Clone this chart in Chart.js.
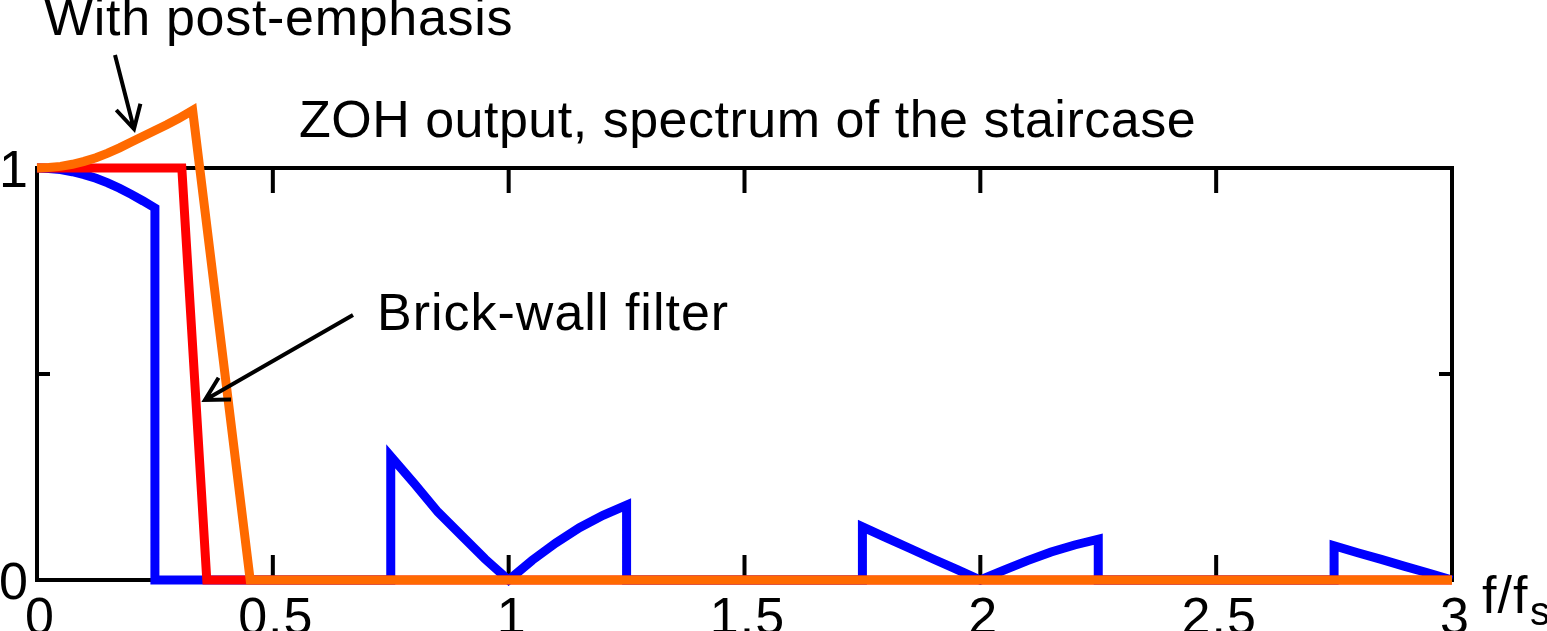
<!DOCTYPE html>
<html>
<head>
<meta charset="utf-8">
<script src="https://cdn.jsdelivr.net/npm/chart.js@4/dist/chart.umd.min.js"></script>
<style>
  html, body { margin: 0; padding: 0; background: #fff; }
  #wrap { width: 1547px; height: 631px; }
</style>
</head>
<body>
<div id="wrap"><canvas id="zohChart"></canvas></div>
<script>
// values (f/fs on x, magnitude on y)
const zohX = [0, 0.025, 0.05, 0.075, 0.1, 0.125, 0.15, 0.175, 0.2, 0.225, 0.25, 0.25, 0.75,
  0.75, 0.8, 0.85, 0.9, 0.95, 1, 1.05, 1.1, 1.15, 1.2, 1.25, 1.25, 1.75,
  1.75, 1.8, 1.85, 1.9, 1.95, 2, 2.05, 2.1, 2.15, 2.2, 2.25, 2.25, 2.75,
  2.75, 2.8, 2.85, 2.9, 2.95, 3];
const zohY = [1, 0.999, 0.996, 0.991, 0.984, 0.975, 0.964, 0.951, 0.936, 0.92, 0.903, 0, 0,
  0.3, 0.234, 0.165, 0.108, 0.051, 0, 0.048, 0.09, 0.127, 0.157, 0.182, 0, 0,
  0.129, 0.103, 0.077, 0.051, 0.026, 0, 0.024, 0.047, 0.068, 0.085, 0.099, 0, 0,
  0.083, 0.066, 0.05, 0.033, 0.017, 0];

const brickX = [0, 0.307, 0.36, 3];
const brickY = [1, 1, 0, 0];

const postX = [0, 0.025, 0.05, 0.075, 0.1, 0.125, 0.15, 0.175, 0.2, 0.225, 0.25, 0.275, 0.3, 0.33, 0.452, 3];
const postY = [1, 1.001, 1.004, 1.009, 1.016, 1.025, 1.036, 1.049, 1.063, 1.077, 1.091, 1.105, 1.12, 1.14, 0, 0];

const xTickVals = [0, 0.5, 1, 1.5, 2, 2.5, 3];
const xTickLabels = ['0', '0.5', '1', '1.5', '2', '2.5', '3'];
const yTickVals = [0, 0.5, 1];
const yTickLabels = ['0', '', '1'];

const FONT = "52px 'Liberation Sans', Arial, sans-serif";
const LINE_W = 9;

function pts(xs, ys) {
  return xs.map((x, i) => ({ x: x, y: ys[i] }));
}

function arrow(ctx, x1, y1, x2, y2) {
  const a = Math.atan2(y2 - y1, x2 - x1);
  const len = 26, spread = 0.5;
  ctx.beginPath();
  ctx.moveTo(x1, y1);
  ctx.lineTo(x2, y2);
  ctx.moveTo(x2 - len * Math.cos(a - spread), y2 - len * Math.sin(a - spread));
  ctx.lineTo(x2, y2);
  ctx.lineTo(x2 - len * Math.cos(a + spread), y2 - len * Math.sin(a + spread));
  ctx.stroke();
}

// box, inner ticks and all the text, MATLAB style
const axesBox = {
  id: 'axesBox',
  beforeDatasetsDraw(chart) {
    const { ctx, chartArea: ca, scales } = chart;
    ctx.save();
    ctx.strokeStyle = '#000';
    ctx.lineWidth = 4;
    ctx.strokeRect(ca.left, ca.top, ca.right - ca.left, ca.bottom - ca.top);
    ctx.beginPath();
    xTickVals.forEach(v => {
      const px = scales.x.getPixelForValue(v);
      ctx.moveTo(px, ca.top); ctx.lineTo(px, ca.top + 25);
      ctx.moveTo(px, ca.bottom); ctx.lineTo(px, ca.bottom - 25);
    });
    yTickVals.forEach(v => {
      const py = scales.y.getPixelForValue(v);
      ctx.moveTo(ca.left, py); ctx.lineTo(ca.left + 13, py);
      ctx.moveTo(ca.right, py); ctx.lineTo(ca.right - 13, py);
    });
    ctx.stroke();
    ctx.restore();
  },
  afterDraw(chart) {
    const { ctx, chartArea: ca, scales } = chart;
    ctx.save();
    ctx.fillStyle = '#000';
    ctx.font = FONT;
    ctx.letterSpacing = '1px';

    // tick labels
    ctx.textAlign = 'center';
    ctx.textBaseline = 'alphabetic';
    xTickVals.forEach((v, i) => {
      ctx.fillText(xTickLabels[i], scales.x.getPixelForValue(v) + 3, ca.bottom + 54);
    });
    ctx.textAlign = 'right';
    ctx.textBaseline = 'middle';
    yTickVals.forEach((v, i) => {
      if (yTickLabels[i]) ctx.fillText(yTickLabels[i], ca.left - 8, scales.y.getPixelForValue(v) + 5);
    });

    // axis label f/fs
    ctx.textAlign = 'left';
    ctx.textBaseline = 'alphabetic';
    ctx.fillText('f/f', ca.right + 30, ca.bottom + 33);
    ctx.font = "40px 'Liberation Sans', Arial, sans-serif";
    ctx.fillText('s', ca.right + 78, ca.bottom + 45);

    // title
    ctx.font = FONT;
    ctx.letterSpacing = '0.5px';
    ctx.textAlign = 'center';
    ctx.fillText('ZOH output, spectrum of the staircase', (ca.left + ca.right) / 2 + 3, 137);

    // annotations
    ctx.textAlign = 'left';
    ctx.letterSpacing = '0.7px';
    ctx.fillText('With post-emphasis', 44, 35);
    ctx.letterSpacing = '1px';
    ctx.fillText('Brick-wall filter', 377, 330);
    ctx.strokeStyle = '#000';
    ctx.lineWidth = 4;
    arrow(ctx, 115, 55, 134, 129);
    arrow(ctx, 353, 315, 205, 400);
    ctx.restore();
  }
};

const lineStyle = {
  pointRadius: 0,
  borderWidth: LINE_W,
  tension: 0,
  fill: false,
  clip: false,
  borderJoinStyle: 'miter',
  borderCapStyle: 'butt'
};

new Chart(document.getElementById('zohChart'), {
  type: 'line',
  data: {
    datasets: [
      { ...lineStyle, label: 'With post-emphasis', data: pts(postX, postY), borderColor: '#ff6a00' },
      { ...lineStyle, label: 'Brick-wall filter', data: pts(brickX, brickY), borderColor: '#ff0000' },
      { ...lineStyle, label: 'ZOH output', data: pts(zohX, zohY), borderColor: '#0000ff' }
    ]
  },
  options: {
    responsive: true,
    maintainAspectRatio: false,
    animation: false,
    layout: { padding: { left: 37, top: 168, right: 95, bottom: 51 } },
    elements: { line: { borderWidth: LINE_W } },
    plugins: {
      legend: { display: false },
      title: { display: false },
      tooltip: { enabled: false }
    },
    scales: {
      x: { type: 'linear', min: 0, max: 3, display: false },
      y: { type: 'linear', min: 0, max: 1, display: false }
    }
  },
  plugins: [axesBox]
});
</script>
</body>
</html>
